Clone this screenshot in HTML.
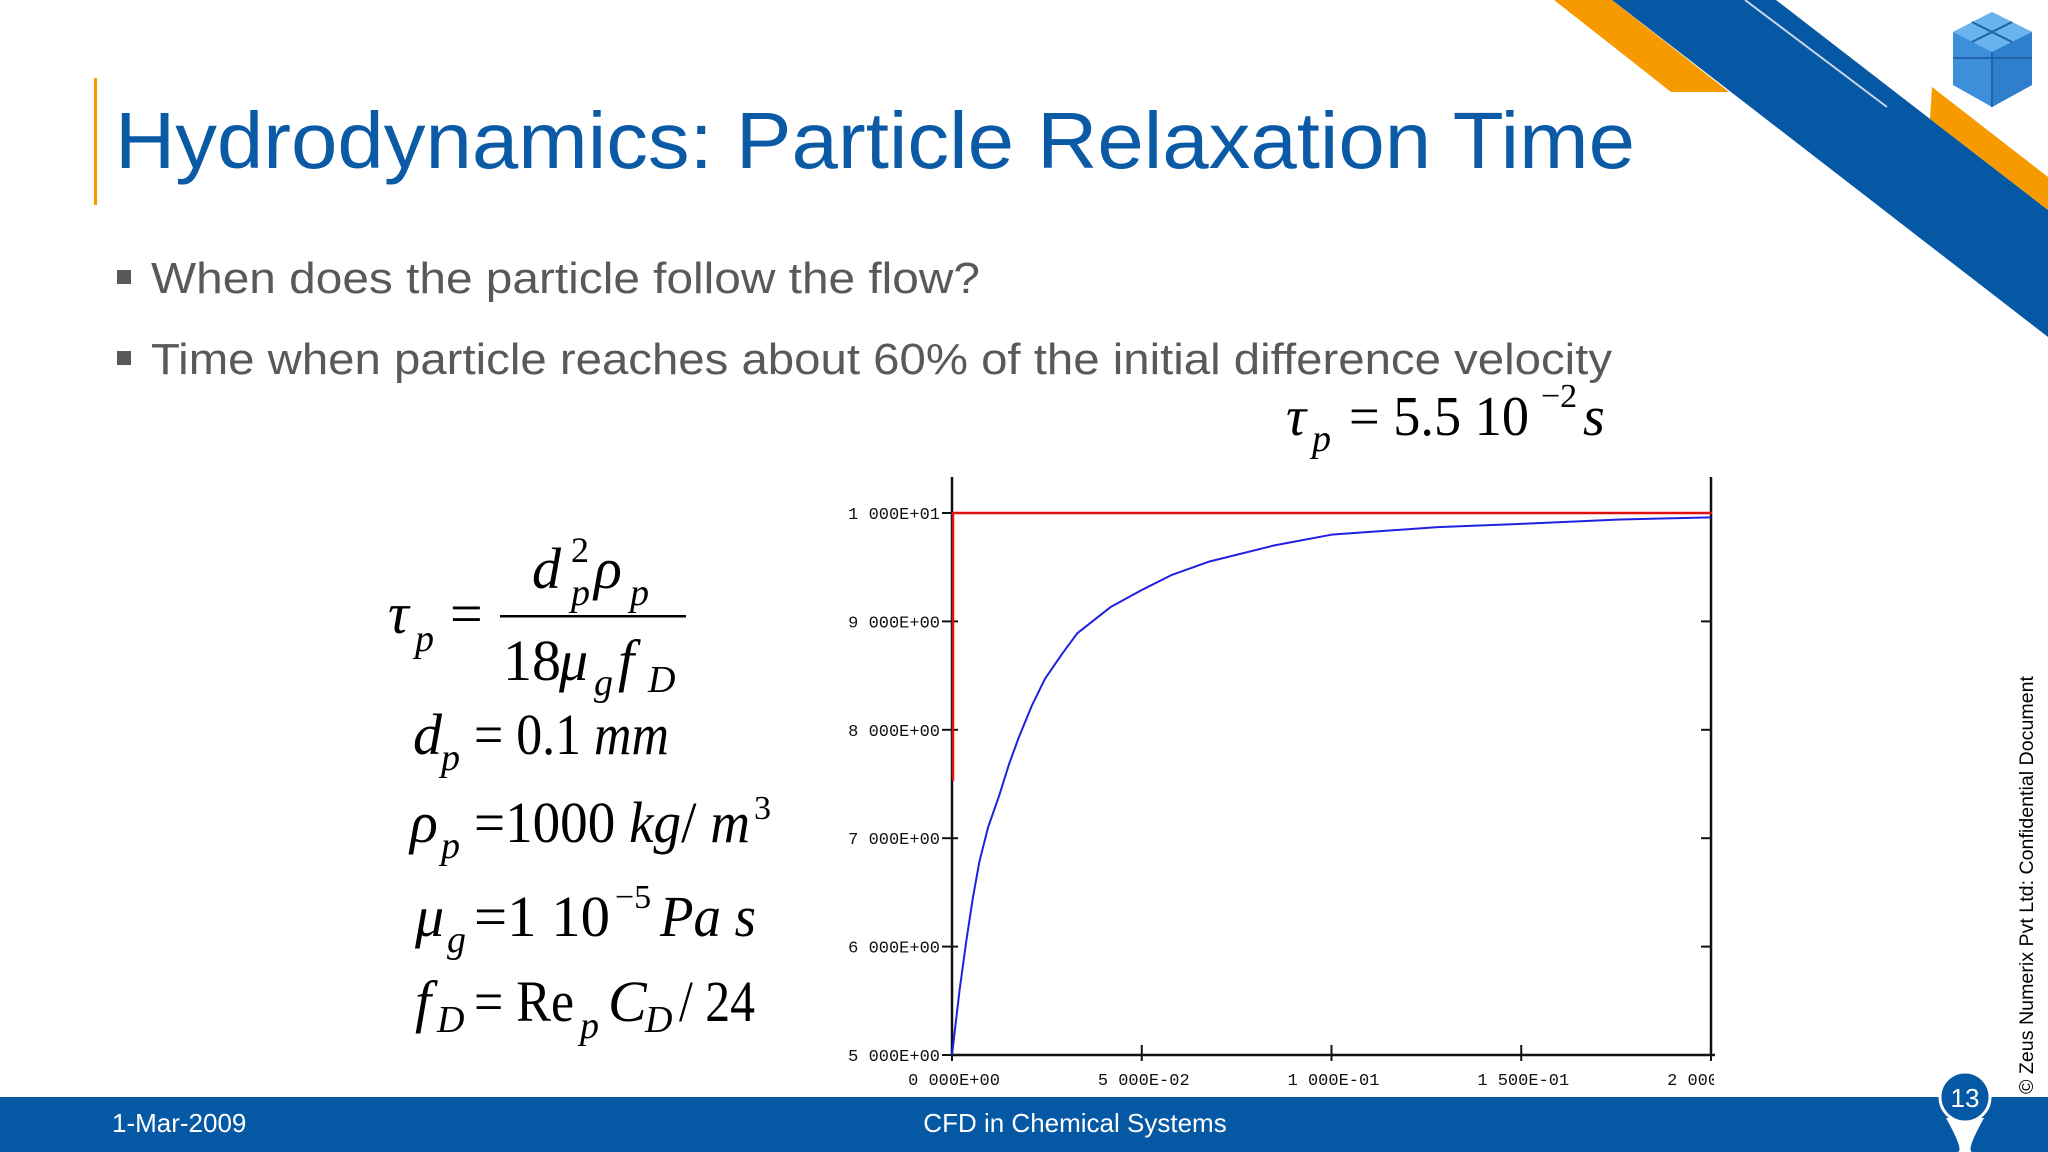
<!DOCTYPE html>
<html><head><meta charset="utf-8"><style>
html,body{margin:0;padding:0;background:#fff}
svg{display:block}
.sf{font-family:"Liberation Serif",serif;fill:#000}
.it{font-style:italic}
.ax{font-family:"Liberation Mono",monospace;font-size:17px;fill:#111}
</style></head><body>
<svg id="slide" width="2048" height="1152" viewBox="0 0 2048 1152" xmlns="http://www.w3.org/2000/svg">
<rect width="2048" height="1152" fill="#fff"/>
<g>
<polygon points="1554,0 1612,0 1729,92 1671,92" fill="#f79a00"/>
<polygon points="1612,0 1776,0 2048,210 2048,337" fill="#0558a3"/>
<polygon points="1932,87 2048,177 2048,210 1930,119" fill="#f79a00"/>
<line x1="1745" y1="0" x2="1887" y2="107" stroke="#c8d6e8" stroke-width="2"/>
</g>
<g>
<polygon points="1992,12 2032,32 2032,85 1992,107 1953,85 1953,32" fill="#3c8fd8"/>
<polygon points="1992,12 2032,32 1992,52 1953,32" fill="#6bb3ee"/>
<polygon points="1992,52 2032,32 2032,85 1992,107" fill="#2f7fcc"/>
<line x1="1972" y1="22" x2="2012" y2="42" stroke="#1f63a8" stroke-width="2"/>
<line x1="2012" y1="22" x2="1972" y2="42" stroke="#1f63a8" stroke-width="2"/>
<line x1="1992" y1="52" x2="1992" y2="107" stroke="#1f63a8" stroke-width="2"/>
<line x1="1953" y1="58" x2="2032" y2="58" stroke="#1f63a8" stroke-width="2"/>
</g>
<rect x="94" y="78" width="3" height="127" fill="#f79a00"/>
<text x="115" y="168" font-family="Liberation Sans, sans-serif" font-size="80" fill="#0a5aa5" textLength="1520" lengthAdjust="spacingAndGlyphs">Hydrodynamics: Particle Relaxation Time</text>
<rect x="117" y="270" width="14" height="14" fill="#595959"/>
<text x="151" y="293" font-family="Liberation Sans, sans-serif" font-size="44" fill="#595959" textLength="829" lengthAdjust="spacingAndGlyphs">When does the particle follow the flow?</text>
<rect x="117" y="351" width="14" height="14" fill="#595959"/>
<text x="151" y="374" font-family="Liberation Sans, sans-serif" font-size="44" fill="#595959" textLength="1461" lengthAdjust="spacingAndGlyphs">Time when particle reaches about 60% of the initial difference velocity</text>

<g class="sf" font-size="56">
<text x="1286" y="435" class="it">τ</text><text x="1312" y="451" class="it" font-size="38">p</text>
<text x="1349" y="435" textLength="180" lengthAdjust="spacingAndGlyphs">= 5.5  10</text><text x="1541" y="407" font-size="34">−2</text>
<text x="1583" y="435" class="it">s</text>
</g>

<g class="sf" font-size="58">
<text x="388" y="633" class="it">τ</text><text x="415" y="651" class="it" font-size="38">p</text>
<text x="450" y="633">=</text>
<text x="532" y="588" class="it">d</text><text x="571" y="562" font-size="36">2</text><text x="571" y="605" class="it" font-size="38">p</text>
<text x="594" y="588" class="it">ρ</text><text x="630" y="605" class="it" font-size="38">p</text>
<rect x="500" y="615" width="186" height="2.5" fill="#000"/>
<text x="503" y="680">18</text><text x="559" y="680" class="it">μ</text><text x="594" y="695" class="it" font-size="38">g</text>
<text x="618" y="680" class="it">f</text><text x="648" y="692" class="it" font-size="38">D</text>
</g>
<g class="sf" font-size="58">
<text x="413" y="754" class="it">d</text><text x="441" y="770" class="it" font-size="38">p</text>
<text x="474" y="754" textLength="195" lengthAdjust="spacingAndGlyphs">= 0.1 <tspan class="it">mm</tspan></text>
</g>
<g class="sf" font-size="58">
<text x="410" y="842" class="it">ρ</text><text x="441" y="858" class="it" font-size="38">p</text>
<text x="474" y="842" textLength="276" lengthAdjust="spacingAndGlyphs">=1000 <tspan class="it">kg</tspan>/ <tspan class="it">m</tspan></text>
<text x="754" y="819" font-size="34">3</text>
</g>
<g class="sf" font-size="58">
<text x="415" y="936" class="it">μ</text><text x="447" y="952" class="it" font-size="38">g</text>
<text x="474" y="936" textLength="136" lengthAdjust="spacingAndGlyphs">=1  10</text><text x="615" y="908" font-size="34">−5</text>
<text x="660" y="936" class="it" textLength="96" lengthAdjust="spacingAndGlyphs">Pa s</text>
</g>
<g class="sf" font-size="58">
<text x="415" y="1021" class="it">f</text><text x="437" y="1032" class="it" font-size="38">D</text>
<text x="474" y="1021" textLength="100" lengthAdjust="spacingAndGlyphs">= Re</text><text x="580" y="1038" class="it" font-size="38">p</text>
<text x="608" y="1021" class="it">C</text><text x="645" y="1032" class="it" font-size="38">D</text>
<text x="679" y="1021" textLength="76" lengthAdjust="spacingAndGlyphs">/ 24</text>
</g>

<g id="chart"></g>

<rect x="0" y="1097" width="2048" height="55" fill="#0558a3"/>
<text x="112" y="1132" font-family="Liberation Sans, sans-serif" font-size="26" fill="#fff">1-Mar-2009</text>
<text x="1075" y="1132" text-anchor="middle" font-family="Liberation Sans, sans-serif" font-size="26" fill="#fff">CFD in Chemical Systems</text>
<g>
<path d="M1946,1118 Q1964,1150 1958,1152 L1972,1152 Q1966,1150 1984,1118 Z" fill="#fff"/>
<circle cx="1965" cy="1097" r="25" fill="#0558a3" stroke="#fff" stroke-width="3"/>
<text x="1965" y="1107" text-anchor="middle" font-family="Liberation Sans, sans-serif" font-size="26" fill="#fff">13</text>
</g>
<text transform="translate(2033,1094) rotate(-90)" font-family="Liberation Sans, sans-serif" font-size="19" fill="#000" textLength="418" lengthAdjust="spacingAndGlyphs">© Zeus Numerix Pvt Ltd: Confidential Document</text>
</svg>
<script>
const timeValues=[0,0.002,0.0038,0.0055,0.0072,0.0095,0.0124,0.015,0.0176,0.021,0.0245,0.029,0.033,0.0417,0.05,0.058,0.0676,0.0848,0.1,0.128,0.15,0.176,0.2];
const velocityValues=[5.0,5.6,6.06,6.45,6.78,7.1,7.39,7.68,7.93,8.22,8.47,8.7,8.89,9.13,9.29,9.43,9.55,9.70,9.80,9.87,9.90,9.94,9.96];
const fluidTime=[0,0,0.2];
const fluidVelocity=[7.53,10,10];
const xTicks=[0,0.05,0.1,0.15,0.2];
const xTickLabels=["0 000E+00","5 000E-02","1 000E-01","1 500E-01","2 000E-01"];
const yTicks=[5,6,7,8,9,10];
const yTickLabels=["5 000E+00","6 000E+00","7 000E+00","8 000E+00","9 000E+00","1 000E+01"];
const NS="http://www.w3.org/2000/svg";
const X0=952,X1=1711,Y0=1055,Y1=513;
const sx=v=>X0+(v-0)/(0.2-0)*(X1-X0);
const sy=v=>Y0-(v-5)/(10-5)*(Y0-Y1);
const g=document.getElementById('chart');
function mk(t,a){const e=document.createElementNS(NS,t);for(const k in a)e.setAttribute(k,a[k]);g.appendChild(e);return e;}
let e=mk('line',{x1:X0,y1:477,x2:X0,y2:Y0,stroke:'#111','stroke-width':2.5});


e=mk('line',{x1:X1,y1:477,x2:X1,y2:Y0,stroke:'#111','stroke-width':2.5});


e=mk('line',{x1:X0,y1:Y0,x2:X1+4,y2:Y0,stroke:'#111','stroke-width':2.5});


yTicks.forEach((v,i)=>{
 let t=mk('line',{x1:X0-10,y1:sy(v),x2:X0+6,y2:sy(v),stroke:'#111','stroke-width':2});
 
 
 let r=mk('line',{x1:X1-10,y1:sy(v),x2:X1,y2:sy(v),stroke:'#111','stroke-width':2});
 
 
 let l=mk('text',{x:X0-12,y:sy(v)+6,'text-anchor':'end',class:'ax'});
 l.textContent=yTickLabels[i];
 
 
});
xTicks.forEach((v,i)=>{
 let t=mk('line',{x1:sx(v),y1:Y0-10,x2:sx(v),y2:Y0+6,stroke:'#111','stroke-width':2});
 
 
 let l=mk('text',{x:sx(v)+2,y:Y0+30,'text-anchor':'middle',class:'ax'});
 l.textContent=xTickLabels[i];
 
 
});
e=mk('rect',{x:X1+3,y:Y0+8,width:120,height:34,fill:'#fff'});


let p=mk('polyline',{points:fluidTime.map((t,i)=>sx(t)+1+','+sy(fluidVelocity[i])).join(' '),fill:'none',stroke:'#e01010','stroke-width':2.5});


let q=mk('polyline',{points:timeValues.map((t,i)=>sx(t)+','+sy(velocityValues[i])).join(' '),fill:'none',stroke:'#2020e0','stroke-width':2,'stroke-linejoin':'round'});


</script>
</body></html>
